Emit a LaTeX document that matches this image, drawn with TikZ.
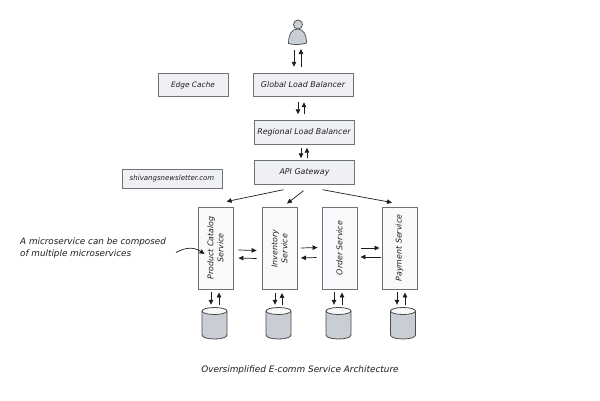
\documentclass[tikz,border=0pt]{standalone}
\usepackage{fontspec}
\setmainfont{DejaVu Sans}
\usetikzlibrary{arrows.meta}
\definecolor{ink}{HTML}{1E1E1E}
\definecolor{edgec}{HTML}{6F7378}
\definecolor{boxfill}{HTML}{EEF0F3}
\definecolor{svcfill}{HTML}{F8F9FB}
\definecolor{dbfill}{HTML}{C9CED4}
\tikzset{
  txt/.style={font=\itshape\fontsize{7.9}{10}\selectfont, text=ink, inner sep=0pt, align=center},
  topbox/.style={draw=edgec, line width=0.9pt, fill=boxfill, txt, minimum height=23.5pt},
  svcbox/.style={draw=edgec, line width=0.9pt, fill=svcfill, minimum width=35pt, minimum height=82pt, inner sep=0pt},
  svctext/.style={txt, rotate=90},
  dbanchor/.style={minimum width=25pt, minimum height=32pt, inner sep=0pt},
  dbline/.style={draw=ink!80, line width=0.8pt},
  arr/.style={draw=ink, line width=0.7pt, -{Triangle[length=5pt,width=4.5pt]}},
}
\begin{document}
\begin{tikzpicture}[x=1pt,y=-1pt]
\useasboundingbox (0,0) rectangle (600,400);
\fill[white] (0,0) rectangle (600,400);

% user
\node[circle, draw=ink!80, line width=0.7pt, fill=dbfill, minimum size=9pt, inner sep=0pt] (head) at (298,24.5) {};
\filldraw[draw=ink!80, line width=0.7pt, fill=dbfill] (288.5,43.5) .. controls (288.5,34) and (292,29) .. (297.5,29) .. controls (303,29) and (306.5,34) .. (306.5,43) .. controls (300,45) and (294,45) .. (288.5,43.5) -- cycle;
\coordinate (user) at (297.5,44);

% top boxes
\node[topbox, minimum width=100pt] (glb) at (303,85) {Global Load Balancer};
\node[topbox, minimum width=70pt, font=\itshape\fontsize{7.4}{10}\selectfont] (edge) at (193,85) {Edge Cache};
\node[topbox, minimum width=100pt] (rlb) at (304,132.5) {Regional Load Balancer};
\node[topbox, minimum width=100pt] (api) at (304.5,172.5) {API Gateway};
\node[topbox, minimum width=100pt, minimum height=19pt, font=\itshape\fontsize{7}{10}\selectfont] (site) at (172,178.5) {shivangsnewsletter.com};

% services
\node[svcbox] (s1) at (215.5,248) {};
\node[svcbox] (s2) at (279.5,248.5) {};
\node[svcbox] (s3) at (339.5,248) {};
\node[svcbox] (s4) at (399.5,248) {};
\node[svctext] (t1) at (s1.center) {Product Catalog\\Service};
\node[svctext] (t2) at (s2.center) {Inventory\\Service};
\node[svctext] (t3) at (s3.center) {Order Service};
\node[svctext] (t4) at (s4.center) {Payment Service};

% databases
\foreach \n/\x in {d1/214.5, d2/278.5, d3/338.5, d4/403}{
  \path[dbline, fill=dbfill] (\x-12.5,311) -- (\x-12.5,335) .. controls (\x-12.5,340.3) and (\x+12.5,340.3) .. (\x+12.5,335) -- (\x+12.5,311) -- cycle;
  \path[dbline, fill=svcfill] (\x,311) ellipse[x radius=12.5pt, y radius=3.5pt];
  \node[dbanchor] (\n) at (\x,323) {};
}

% vertical pairs
\draw[arr] ([xshift=-3.5pt,yshift=-6pt]user) -- ([xshift=-9pt,yshift=6pt]glb.north);
\draw[arr] ([xshift=-2pt,yshift=6pt]glb.north) -- ([xshift=3.5pt,yshift=-5pt]user);
\draw[arr] ([xshift=-5pt,yshift=-5pt]glb.south) -- ([xshift=-6pt,yshift=6pt]rlb.north);
\draw[arr] ([xshift=0pt,yshift=6pt]rlb.north) -- ([xshift=1pt,yshift=-5pt]glb.south);
\draw[arr] ([xshift=-3pt,yshift=-3pt]rlb.south) -- ([xshift=-3.5pt,yshift=2pt]api.north);
\draw[arr] ([xshift=2.5pt,yshift=2pt]api.north) -- ([xshift=3pt,yshift=-3pt]rlb.south);

% fan out
\draw[arr] ([xshift=-21pt,yshift=-5pt]api.south) -- ([xshift=11pt,yshift=5pt]s1.north);
\draw[arr] ([xshift=-1pt,yshift=-6pt]api.south) -- ([xshift=7.5pt,yshift=3.5pt]s2.north);
\draw[arr] ([xshift=18pt,yshift=-5pt]api.south) -- ([xshift=-7.5pt,yshift=4pt]s4.north);

% horizontal pairs
\draw[arr] ([xshift=5pt,yshift=-2pt]s1.east) -- ([xshift=-5pt,yshift=-2pt]s2.west);
\draw[arr] ([xshift=-5pt,yshift=-10pt]s2.west) -- ([xshift=5pt,yshift=-10pt]s1.east);
\draw[arr] ([xshift=3.5pt,yshift=0.5pt]s2.east) -- ([xshift=-4pt,yshift=0.5pt]s3.west);
\draw[arr] ([xshift=-5pt,yshift=-9.5pt]s3.west) -- ([xshift=3.5pt,yshift=-9.5pt]s2.east);
\draw[arr] ([xshift=4pt,yshift=0pt]s3.east) -- ([xshift=-2pt,yshift=0pt]s4.west);
\draw[arr] ([xshift=-0.5pt,yshift=-9pt]s4.west) -- ([xshift=3pt,yshift=-9pt]s3.east);

% service <-> db
\foreach \s/\d/\a/\b/\c/\e in {s1/d1/-4.5/-3.5/3.5/4.5, s2/d2/-4.5/-3.5/2.5/3.5, s3/d3/-5.5/-4.5/2.5/3.5, s4/d4/-2.5/-6/5.5/2}{
  \draw[arr] ([xshift=\a pt,yshift=-3pt]\s.south) -- ([xshift=\b pt,yshift=2pt]\d.north);
  \draw[arr] ([xshift=\e pt,yshift=2pt]\d.north) -- ([xshift=\c pt,yshift=-3pt]\s.south);
}

% annotation
\node[font=\itshape\fontsize{8.8}{12}\selectfont, text=ink, inner sep=0pt, align=left, anchor=west] (note) at (20,248) {A microservice can be composed\\of multiple microservices};
\coordinate (noteend) at (176,252.5);
\draw[arr] (noteend) .. controls (186,247) and (194,247) .. ([xshift=7pt,yshift=-6pt]s1.west);

% title
\node[font=\itshape\fontsize{8.9}{11}\selectfont, text=ink, inner sep=0pt] (title) at (300,370) {Oversimplified E-comm Service Architecture};
\end{tikzpicture}
\end{document}
